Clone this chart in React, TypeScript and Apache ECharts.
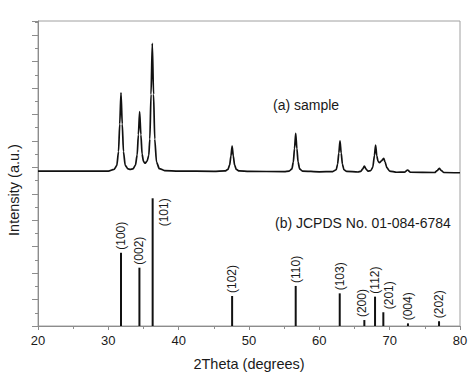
import React, { useEffect, useRef } from "react";
import * as echarts from "echarts";

// (a) sample pattern: [2theta, intensity]
const samplePattern: [number, number][] = [
  [20.0, 117.2], [25.0, 117.2], [30.0, 117.2], [30.8, 118.4], [31.2, 121.3], [31.45, 132.0],
  [31.62, 152.7], [31.8, 176.4], [31.98, 152.7], [32.15, 132.0], [32.4, 121.5],
  [32.8, 118.8], [33.1, 118.5], [33.5, 118.9], [33.85, 121.6], [34.1, 129.4],
  [34.27, 144.7], [34.45, 162.1], [34.63, 144.7], [34.8, 130.0], [35.0, 124.5],
  [35.2, 123.1], [35.5, 124.5], [35.75, 129.0], [35.9, 141.4], [36.07, 175.2],
  [36.25, 213.8], [36.43, 175.2], [36.6, 141.4], [36.85, 124.0], [37.25, 119.0],
  [38.0, 117.6], [40.0, 117.2], [45.0, 117.0], [46.6, 117.3], [47.0, 118.4],
  [47.25, 121.8], [47.43, 128.5], [47.6, 136.1], [47.77, 128.5], [47.95, 121.8],
  [48.2, 118.4], [48.6, 117.3], [50.0, 116.9], [55.0, 116.8], [55.7, 117.2],
  [56.1, 118.8], [56.3, 124.0], [56.47, 134.1], [56.64, 145.7], [56.81, 134.1],
  [56.98, 124.0], [57.2, 118.8], [57.6, 117.2], [60.0, 116.6], [61.9, 116.8],
  [62.4, 118.2], [62.6, 122.5], [62.77, 130.7], [62.94, 140.1], [63.11, 130.7],
  [63.28, 122.5], [63.5, 118.2], [63.9, 116.9], [65.5, 116.5], [65.9, 117.0],
  [66.15, 118.6], [66.4, 121.0], [66.65, 118.6], [66.9, 117.2], [67.3, 117.5],
  [67.6, 120.0], [67.83, 128.8], [68.0, 136.9], [68.17, 128.8], [68.35, 124.5],
  [68.55, 123.5], [68.85, 125.0], [69.15, 126.8], [69.35, 124.0], [69.6, 119.8],
  [70.0, 117.2], [71.0, 116.3], [72.1, 116.4], [72.55, 118.0], [72.95, 116.3],
  [76.4, 116.1], [76.75, 117.5], [77.05, 119.3], [77.35, 117.6], [77.7, 116.1],
  [80.0, 115.9],
];

// (b) JCPDS reference lines
const refPositions = [31.8, 34.42, 36.3, 47.6, 56.64, 62.9, 66.4, 67.92, 69.1, 72.6, 77.02];
const refIntensities = [55.4, 44.1, 96.6, 22.7, 30.3, 24.7, 4.5, 22.2, 10.4, 2.0, 3.6];
const refLabels = ["(100)", "(002)", "(101)", "(102)", "(110)", "(103)", "(200)", "(112)", "(201)", "(004)", "(202)"];

const xTicks = { min: 20, max: 80, interval: 10 };
const yRange = { min: 0, max: 230.7, interval: 20 };

const FONT = "Liberation Sans, Arial, sans-serif";

export default function App() {
  const ref = useRef<HTMLDivElement>(null);
  useEffect(() => {
    if (!ref.current) return;
    const chart = echarts.init(ref.current, undefined, { renderer: "svg" });
    const axisGray = "#8c8c8c";
    const labelShift: Record<string, any> = {
      "(101)": { position: [12, 0], align: "right", verticalAlign: "middle" },
      "(201)": { position: [7, -3], align: "left", verticalAlign: "middle" },
      "(200)": { position: [-1.5, -3], align: "left", verticalAlign: "middle" },
    };
    const refData = refPositions.map((x, i) => {
      const item: any = { value: [x, refIntensities[i]], name: refLabels[i] };
      if (labelShift[refLabels[i]]) item.label = labelShift[refLabels[i]];
      return item;
    });
    chart.setOption({
      animation: false,
      backgroundColor: "#ffffff",
      grid: { left: 38, right: 14, top: 21, bottom: 59, show: true, borderColor: "#a0a0a0", borderWidth: 1 },
      xAxis: {
        type: "value",
        min: xTicks.min,
        max: xTicks.max,
        interval: xTicks.interval,
        name: "2Theta (degrees)",
        nameLocation: "middle",
        nameGap: 30,
        nameTextStyle: { fontFamily: FONT, fontSize: 14.5, color: "#1a1a1a" },
        axisLine: { show: true, lineStyle: { color: axisGray, width: 1 } },
        axisTick: { show: true, length: 4, lineStyle: { color: axisGray } },
        minorTick: { show: true, splitNumber: 2, length: 3, lineStyle: { color: axisGray } },
        splitLine: { show: false },
        axisLabel: { fontFamily: FONT, fontSize: 13, color: "#1a1a1a", margin: 8 },
      },
      yAxis: {
        type: "value",
        min: yRange.min,
        max: yRange.max,
        interval: yRange.interval,
        axisLine: { show: true, lineStyle: { color: axisGray, width: 1 } },
        axisTick: { show: true, length: 6, lineStyle: { color: axisGray } },
        minorTick: { show: true, splitNumber: 2, length: 3, lineStyle: { color: axisGray } },
        splitLine: { show: false },
        axisLabel: { show: false },
      },
      series: [
        {
          type: "line",
          data: samplePattern,
          showSymbol: false,
          smooth: 0.25,
          smoothMonotone: "x",
          lineStyle: { color: "#111111", width: 1.7 },
          silent: true,
        },
        {
          type: "bar",
          data: refData,
          barWidth: 2,
          itemStyle: { color: "#111111" },
          label: {
            show: true,
            formatter: "{b}",
            position: "top",
            rotate: 90,
            align: "left",
            verticalAlign: "middle",
            distance: 3,
            fontFamily: FONT,
            fontSize: 12,
            color: "#1a1a1a",
          },
          silent: true,
        },
      ],
      graphic: [
        {
          type: "text",
          x: 14,
          y: 190,
          rotation: Math.PI / 2,
          style: {
            text: "Intensity (a.u.)",
            fontFamily: FONT,
            fontSize: 14.5,
            fill: "#1a1a1a",
            align: "center",
            verticalAlign: "middle",
          },
        },
        {
          type: "text",
          x: 273,
          y: 105,
          style: {
            text: "(a) sample",
            fontFamily: FONT,
            fontSize: 14,
            fill: "#1a1a1a",
            align: "left",
            verticalAlign: "middle",
          },
        },
        {
          type: "text",
          x: 275,
          y: 223,
          style: {
            text: "(b) JCPDS No. 01-084-6784",
            fontFamily: FONT,
            fontSize: 14,
            fill: "#1a1a1a",
            align: "left",
            verticalAlign: "middle",
          },
        },
      ],
    });
    return () => chart.dispose();
  }, []);
  return (
    <div
      ref={ref}
      style={{ position: "absolute", left: 0, top: 0, width: 474, height: 385, background: "#fff" }}
    />
  );
}
